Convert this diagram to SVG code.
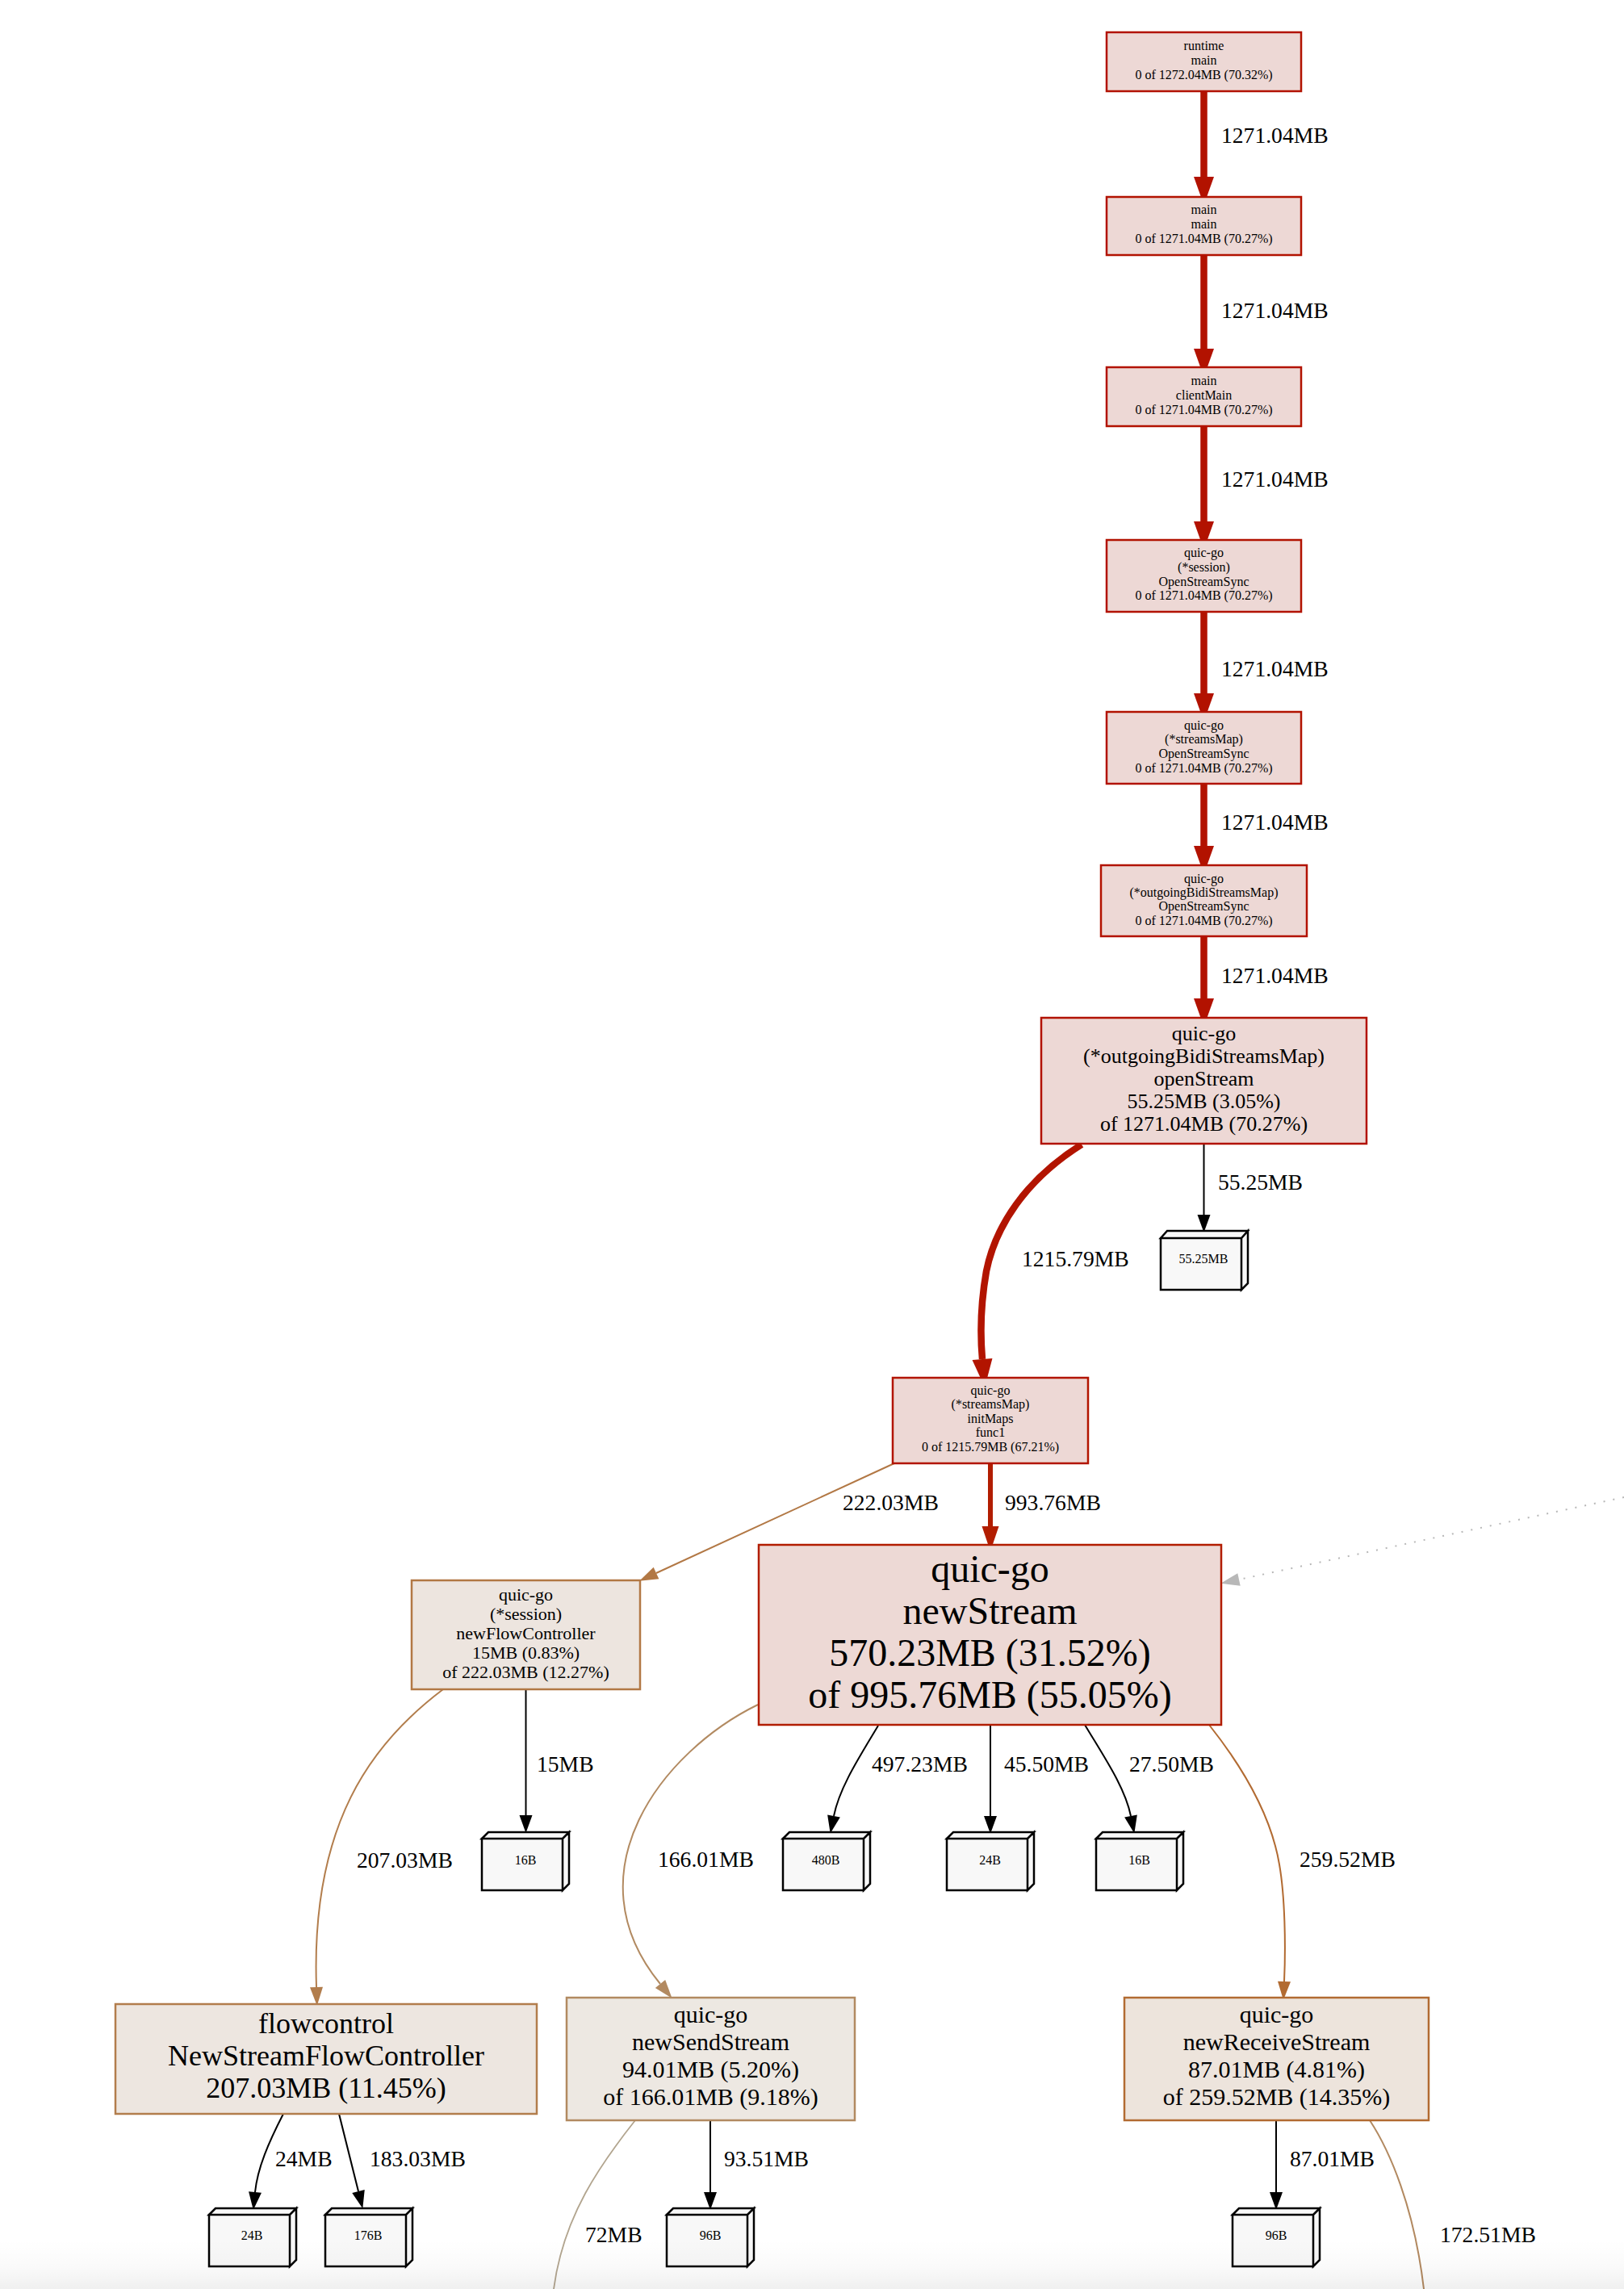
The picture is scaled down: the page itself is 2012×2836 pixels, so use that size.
<svg xmlns="http://www.w3.org/2000/svg" width="2012" height="2836" viewBox="0 0 2012 2836">
<style>
text{font-family:"Liberation Serif","Times New Roman",serif;fill:#000;text-anchor:middle}
.s16{font-size:16px}.s22{font-size:22px}.s26{font-size:26px}.s30{font-size:30px}.s36{font-size:36px}.s48{font-size:48px}
.lab{font-size:27.6px;text-anchor:start}
.n{stroke-width:2.5}
.box{fill:#f8f8f8;stroke:#000;stroke-width:2.5;stroke-linejoin:miter}
.e{fill:none}
.k{stroke:#000;stroke-width:2}
</style>
<defs>
<marker id="hA" markerUnits="userSpaceOnUse" markerWidth="35" markerHeight="25" refX="0" refY="12.5" orient="auto" overflow="visible"><path d="M0,0L35,12.5L0,25Z" fill="#b21200"/></marker>
<marker id="hB" markerUnits="userSpaceOnUse" markerWidth="35" markerHeight="25" refX="0" refY="12.5" orient="auto" overflow="visible"><path d="M0,0L35,12.5L0,25Z" fill="#b21400"/></marker>
<marker id="hC" markerUnits="userSpaceOnUse" markerWidth="31" markerHeight="21" refX="0" refY="10.5" orient="auto" overflow="visible"><path d="M0,0L31,10.5L0,21Z" fill="#b21d00"/></marker>
<marker id="hK" markerUnits="userSpaceOnUse" markerWidth="22" markerHeight="16" refX="0" refY="8" orient="auto" overflow="visible"><path d="M0,0L22,8L0,16Z" fill="#000"/></marker>
<marker id="h1" markerUnits="userSpaceOnUse" markerWidth="23" markerHeight="16" refX="0" refY="8" orient="auto" overflow="visible"><path d="M0,0L23,8L0,16Z" fill="#b27845"/></marker>
<marker id="h2" markerUnits="userSpaceOnUse" markerWidth="23" markerHeight="16" refX="0" refY="8" orient="auto" overflow="visible"><path d="M0,0L23,8L0,16Z" fill="#b27d4c"/></marker>
<marker id="h3" markerUnits="userSpaceOnUse" markerWidth="23" markerHeight="16" refX="0" refY="8" orient="auto" overflow="visible"><path d="M0,0L23,8L0,16Z" fill="#b28a61"/></marker>
<marker id="h4" markerUnits="userSpaceOnUse" markerWidth="23" markerHeight="16" refX="0" refY="8" orient="auto" overflow="visible"><path d="M0,0L23,8L0,16Z" fill="#b26b32"/></marker>
<marker id="hG" markerUnits="userSpaceOnUse" markerWidth="23" markerHeight="16" refX="0" refY="8" orient="auto" overflow="visible"><path d="M0,0L23,8L0,16Z" fill="#b8b8b8"/></marker>
<linearGradient id="fade" x1="0" y1="0" x2="0" y2="1"><stop offset="0" stop-color="#000" stop-opacity="0"/><stop offset="0.55" stop-color="#000" stop-opacity="0.02"/><stop offset="1" stop-color="#000" stop-opacity="0.06"/></linearGradient>
</defs>
<rect width="2012" height="2836" fill="#fff"/>
<g id="connectors">
<g class="e" stroke="#b21200" stroke-width="8.5">
<path d="M1491.5,113V219" marker-end="url(#hA)"/>
<path d="M1491.5,316V432" marker-end="url(#hA)"/>
<path d="M1491.5,528V646" marker-end="url(#hA)"/>
<path d="M1491.5,758V859" marker-end="url(#hA)"/>
<path d="M1491.5,971V1048" marker-end="url(#hA)"/>
<path d="M1491.5,1160V1237" marker-end="url(#hA)"/>
<path d="M1340,1418C1270,1462 1233,1520 1222,1575C1215,1615 1214,1650 1217,1684" marker-end="url(#hB)" stroke="#b21400"/>
</g>
<path class="e" d="M1227,1813V1891" stroke="#b21d00" stroke-width="6" marker-end="url(#hC)"/>
<path class="e" d="M1108,1813L813,1949" stroke="#b27845" stroke-width="2" marker-end="url(#h1)"/>
<path class="e" d="M549,2093C460,2160 385,2260 392,2462" stroke="#b27d4c" stroke-width="2" marker-end="url(#h2)"/>
<path class="e" d="M939,2112C820,2170 705,2320 818,2458" stroke="#b28a61" stroke-width="2" marker-end="url(#h3)"/>
<path class="e" d="M1498,2137C1540,2190 1575,2250 1585,2310C1592,2350 1593,2410 1591,2455" stroke="#b26b32" stroke-width="2" marker-end="url(#h4)"/>
<path class="e" d="M2012,1855L1535,1957" stroke="#b8b8b8" stroke-width="2" stroke-dasharray="2 10" marker-end="url(#hG)"/>
<path class="e" d="M787,2627C745,2680 698,2745 686,2836" stroke="#b2a58f" stroke-width="1.8"/>
<path class="e" d="M1697,2627C1722,2665 1752,2735 1764,2836" stroke="#b28960" stroke-width="2"/>
<g class="e k">
<path d="M1491.5,1417V1505" marker-end="url(#hK)"/>
<path d="M651.5,2093V2249" marker-end="url(#hK)"/>
<path d="M1088,2138C1064,2178 1040,2215 1033,2250" marker-end="url(#hK)"/>
<path d="M1227,2137V2250" marker-end="url(#hK)"/>
<path d="M1344,2137C1368,2177 1394,2215 1401,2250" marker-end="url(#hK)"/>
<path d="M351,2619C333,2654 319,2686 316,2716" marker-end="url(#hK)"/>
<path d="M420,2619L444,2715" marker-end="url(#hK)"/>
<path d="M880,2627V2716" marker-end="url(#hK)"/>
<path d="M1581,2627V2716" marker-end="url(#hK)"/>
</g>
<g id="edge-labels">
<text class="lab" x="1513" y="177">1271.04MB</text>
<text class="lab" x="1513" y="394">1271.04MB</text>
<text class="lab" x="1513" y="603">1271.04MB</text>
<text class="lab" x="1513" y="838">1271.04MB</text>
<text class="lab" x="1513" y="1028">1271.04MB</text>
<text class="lab" x="1513" y="1218">1271.04MB</text>
<text class="lab" x="1509" y="1474">55.25MB</text>
<text class="lab" x="1266" y="1569">1215.79MB</text>
<text class="lab" x="1044" y="1871">222.03MB</text>
<text class="lab" x="1245" y="1871">993.76MB</text>
<text class="lab" x="665" y="2195">15MB</text>
<text class="lab" x="442" y="2314">207.03MB</text>
<text class="lab" x="815" y="2313">166.01MB</text>
<text class="lab" x="1080" y="2195">497.23MB</text>
<text class="lab" x="1244" y="2195">45.50MB</text>
<text class="lab" x="1399" y="2195">27.50MB</text>
<text class="lab" x="1610" y="2313">259.52MB</text>
<text class="lab" x="341" y="2684">24MB</text>
<text class="lab" x="458" y="2684">183.03MB</text>
<text class="lab" x="897" y="2684">93.51MB</text>
<text class="lab" x="1598" y="2684">87.01MB</text>
<text class="lab" x="725" y="2778">72MB</text>
<text class="lab" x="1784" y="2778">172.51MB</text>
</g>
</g>
<g id="n1"><rect class="n" x="1371" y="40" width="241" height="73" fill="#edd8d5" stroke="#b21200"/><g class="s16"><text x="1491.5" y="62">runtime</text><text x="1491.5" y="80">main</text><text x="1491.5" y="98">0 of 1272.04MB (70.32%)</text></g></g>
<g id="n2"><rect class="n" x="1371" y="244" width="241" height="72" fill="#edd8d5" stroke="#b21200"/><g class="s16"><text x="1491.5" y="265">main</text><text x="1491.5" y="283">main</text><text x="1491.5" y="301">0 of 1271.04MB (70.27%)</text></g></g>
<g id="n3"><rect class="n" x="1371" y="455" width="241" height="73" fill="#edd8d5" stroke="#b21200"/><g class="s16"><text x="1491.5" y="477">main</text><text x="1491.5" y="495">clientMain</text><text x="1491.5" y="513">0 of 1271.04MB (70.27%)</text></g></g>
<g id="n4"><rect class="n" x="1371" y="669" width="241" height="89" fill="#edd8d5" stroke="#b21200"/><g class="s16"><text x="1491.5" y="690">quic-go</text><text x="1491.5" y="708">(*session)</text><text x="1491.5" y="726">OpenStreamSync</text><text x="1491.5" y="743">0 of 1271.04MB (70.27%)</text></g></g>
<g id="n5"><rect class="n" x="1371" y="882" width="241" height="89" fill="#edd8d5" stroke="#b21200"/><g class="s16"><text x="1491.5" y="904">quic-go</text><text x="1491.5" y="921">(*streamsMap)</text><text x="1491.5" y="939">OpenStreamSync</text><text x="1491.5" y="957">0 of 1271.04MB (70.27%)</text></g></g>
<g id="n6"><rect class="n" x="1364" y="1072" width="255" height="88" fill="#edd8d5" stroke="#b21200"/><g class="s16"><text x="1491.5" y="1094">quic-go</text><text x="1491.5" y="1111">(*outgoingBidiStreamsMap)</text><text x="1491.5" y="1128">OpenStreamSync</text><text x="1491.5" y="1146">0 of 1271.04MB (70.27%)</text></g></g>
<g id="n7"><rect class="n" x="1290" y="1261" width="403" height="156" fill="#edd8d5" stroke="#b21200"/><g class="s26"><text x="1491.5" y="1289">quic-go</text><text x="1491.5" y="1317">(*outgoingBidiStreamsMap)</text><text x="1491.5" y="1345">openStream</text><text x="1491.5" y="1373">55.25MB (3.05%)</text><text x="1491.5" y="1401">of 1271.04MB (70.27%)</text></g></g>
<g id="n8"><path class="box" d="M1438,1534L1446,1525H1546L1538,1534ZM1538,1534L1546,1525V1590L1538,1598ZM1438,1534H1538V1598H1438Z"/><text class="s16" x="1491" y="1565">55.25MB</text></g>
<g id="n9"><rect class="n" x="1106" y="1707" width="242" height="106" fill="#edd8d5" stroke="#b21400"/><g class="s16"><text x="1227" y="1728">quic-go</text><text x="1227" y="1745">(*streamsMap)</text><text x="1227" y="1763">initMaps</text><text x="1227" y="1780">func1</text><text x="1227" y="1798">0 of 1215.79MB (67.21%)</text></g></g>
<g id="n10"><rect class="n" x="940" y="1914" width="573" height="223" fill="#edd9d5" stroke="#b21d00"/><g class="s48"><text x="1226.5" y="1960">quic-go</text><text x="1226.5" y="2012">newStream</text><text x="1226.5" y="2064">570.23MB (31.52%)</text><text x="1226.5" y="2116">of 995.76MB (55.05%)</text></g></g>
<g id="n11"><rect class="n" x="510" y="1958" width="283" height="135" fill="#ede5df" stroke="#b27845"/><g class="s22"><text x="651.5" y="1983">quic-go</text><text x="651.5" y="2007">(*session)</text><text x="651.5" y="2031">newFlowController</text><text x="651.5" y="2055">15MB (0.83%)</text><text x="651.5" y="2079">of 222.03MB (12.27%)</text></g></g>
<g id="n12"><path class="box" d="M597,2278L605,2270H705L697,2278ZM697,2278L705,2270V2334L697,2342ZM597,2278H697V2342H597Z"/><text class="s16" x="651" y="2310">16B</text></g>
<g id="n13"><path class="box" d="M970,2278L978,2270H1078L1070,2278ZM1070,2278L1078,2270V2334L1070,2342ZM970,2278H1070V2342H970Z"/><text class="s16" x="1023" y="2310">480B</text></g>
<g id="n14"><path class="box" d="M1173,2278L1181,2270H1281L1273,2278ZM1273,2278L1281,2270V2334L1273,2342ZM1173,2278H1273V2342H1173Z"/><text class="s16" x="1226.5" y="2310">24B</text></g>
<g id="n15"><path class="box" d="M1358,2278L1366,2270H1466L1458,2278ZM1458,2278L1466,2270V2334L1458,2342ZM1358,2278H1458V2342H1358Z"/><text class="s16" x="1411.5" y="2310">16B</text></g>
<g id="n16"><rect class="n" x="143" y="2483" width="522" height="136" fill="#ede6e0" stroke="#b27d4c"/><g class="s36"><text x="404" y="2519">flowcontrol</text><text x="404" y="2559">NewStreamFlowController</text><text x="404" y="2599">207.03MB (11.45%)</text></g></g>
<g id="n17"><rect class="n" x="702" y="2475" width="357" height="152" fill="#ede8e2" stroke="#b28a61"/><g class="s30"><text x="880.5" y="2506">quic-go</text><text x="880.5" y="2540">newSendStream</text><text x="880.5" y="2574">94.01MB (5.20%)</text><text x="880.5" y="2608">of 166.01MB (9.18%)</text></g></g>
<g id="n18"><rect class="n" x="1393" y="2475" width="377" height="152" fill="#ede4dc" stroke="#b26b32"/><g class="s30"><text x="1581.5" y="2506">quic-go</text><text x="1581.5" y="2540">newReceiveStream</text><text x="1581.5" y="2574">87.01MB (4.81%)</text><text x="1581.5" y="2608">of 259.52MB (14.35%)</text></g></g>
<g id="n19"><path class="box" d="M259,2744L267,2736H367L359,2744ZM359,2744L367,2736V2800L359,2808ZM259,2744H359V2808H259Z"/><text class="s16" x="312" y="2775">24B</text></g>
<g id="n20"><path class="box" d="M403,2744L411,2736H511L503,2744ZM503,2744L511,2736V2800L503,2808ZM403,2744H503V2808H403Z"/><text class="s16" x="456" y="2775">176B</text></g>
<g id="n21"><path class="box" d="M826,2744L834,2736H934L926,2744ZM926,2744L934,2736V2800L926,2808ZM826,2744H926V2808H826Z"/><text class="s16" x="880" y="2775">96B</text></g>
<g id="n22"><path class="box" d="M1527,2744L1535,2736H1635L1627,2744ZM1627,2744L1635,2736V2800L1627,2808ZM1527,2744H1627V2808H1527Z"/><text class="s16" x="1581" y="2775">96B</text></g>
<rect x="0" y="2775" width="2012" height="61" fill="url(#fade)"/>
</svg>
